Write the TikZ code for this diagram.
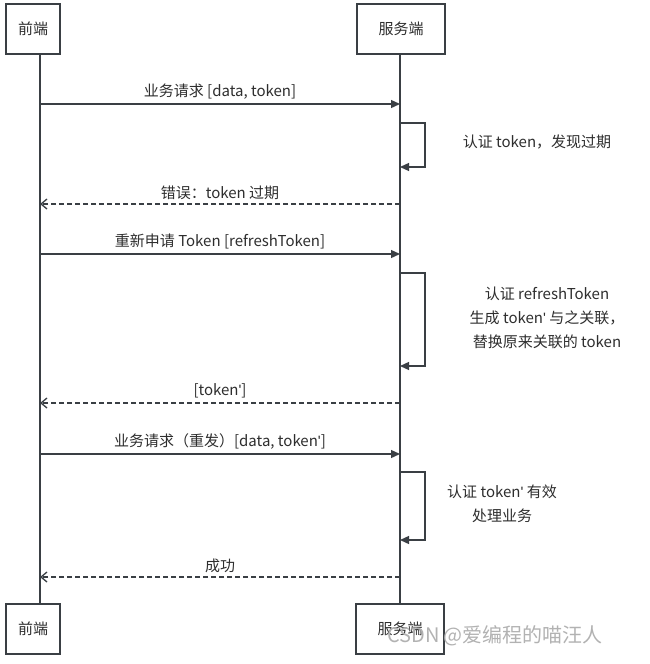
\documentclass[tikz,border=0pt]{standalone}
\usepackage{fontspec}
\setmainfont{Noto Sans CJK SC}
\newfontfamily\latinf{Liberation Sans}
\usetikzlibrary{arrows.meta}
\definecolor{ln}{HTML}{3A3F44}
\definecolor{tx}{HTML}{2E2E2E}
\newcommand{\apo}{{\latinf\char39}}
\begin{document}
\begin{tikzpicture}[x=1pt,y=-1pt,
  actor/.style={draw=ln,line width=1.6pt,fill=white,minimum width=54pt,minimum height=50pt,inner sep=0,text=tx,font=\fontsize{15}{17}\selectfont},
  actorw/.style={actor,minimum width=88pt},
  lbl/.style={text=tx,font=\fontsize{15}{18}\selectfont,align=center,inner sep=1pt},
  msg/.style={draw=ln,line width=1.3pt,-{Triangle[length=9pt,width=8pt]}},
  ret/.style={draw=ln,line width=1.3pt,dashed,dash pattern=on 5pt off 3pt,-{Straight Barb[length=6pt,width=10pt]}}]
\useasboundingbox (0,0) rectangle (649,664);
\fill[white] (0,0) rectangle (649,664);
\coordinate (L0) at (40,54); \coordinate (L1) at (40,604);
\coordinate (R0) at (400,54); \coordinate (R1) at (400,604);
\draw[ln,line width=1.3pt] (L0)--(L1) (R0)--(R1);
\node[actor] (ft) at (33,29) {前端};
\node[actorw] (st) at (401,29) {服务端};
\node[actor] (fb) at (33,629) {前端};
\node[actorw] (sb) at (400,629) {服务端};
\coordinate (a1) at (40,104); \coordinate (b1) at (400,104);
\draw[msg] (a1)--(b1) node[lbl,midway,above=3pt] {业务请求 [data, token]};
\coordinate (p1) at (400,123); \coordinate (q1) at (400,167);
\draw[msg] (p1)--++(25,0)|-(q1);
\node[lbl] (t1) at (537,142) {认证 token，发现过期};
\coordinate (a2) at (400,204); \coordinate (b2) at (40,204);
\draw[ret] (a2)--(b2) node[lbl,midway,above=3pt] {错误：token 过期};
\coordinate (a3) at (40,254); \coordinate (b3) at (400,254);
\draw[msg] (a3)--(b3) node[lbl,midway,above=3pt] {重新申请 Token [refreshToken]};
\coordinate (p2) at (400,273); \coordinate (q2) at (400,366);
\draw[msg] (p2)--++(25,0)|-(q2);
\node[lbl,font=\fontsize{15}{24}\selectfont] (t2) at (547,318) {认证 refreshToken\\生成 token\apo{} 与之关联，\\替换原来关联的 token};
\coordinate (a4) at (400,403); \coordinate (b4) at (40,403);
\draw[ret] (a4)--(b4) node[lbl,midway,above=3pt] {[token\apo]};
\coordinate (a5) at (40,454); \coordinate (b5) at (400,454);
\draw[msg] (a5)--(b5) node[lbl,midway,above=3pt] {业务请求（重发）[data, token\apo]};
\coordinate (p3) at (400,472); \coordinate (q3) at (400,540);
\draw[msg] (p3)--++(25,0)|-(q3);
\node[lbl,font=\fontsize{15}{24}\selectfont] (t3) at (502,504) {认证 token\apo{} 有效\\处理业务};
\coordinate (a6) at (400,577); \coordinate (b6) at (40,577);
\draw[ret] (a6)--(b6) node[lbl,midway,above=3pt] {成功};
\node[text=gray!60,font=\fontsize{20}{22}\selectfont] (wm) at (495,636) {CSDN @爱编程的喵汪人};
\end{tikzpicture}
\end{document}
